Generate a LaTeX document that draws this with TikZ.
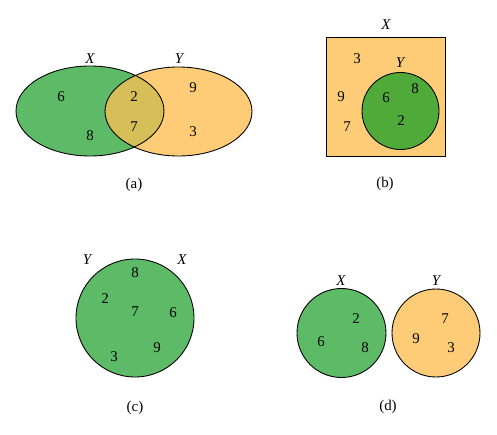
\documentclass[tikz,border=0pt]{standalone}
\usepackage{fontspec}
\setmainfont{Liberation Serif}
\usetikzlibrary{positioning}
\definecolor{setgreen}{RGB}{93,187,104}
\definecolor{setdeep}{RGB}{80,170,58}
\definecolor{setorange}{RGB}{254,204,118}
\definecolor{setboth}{RGB}{214,190,88}

\begin{document}
\begin{tikzpicture}[x=0.02cm,y=-0.02cm,
	setline/.style={draw=black, line width=0.5pt},
	elem/.style={font=\fontsize{8.5}{10}\selectfont, inner sep=1pt},
	setname/.style={font=\fontsize{8.5}{10}\selectfont\itshape, inner sep=1pt},
	caption/.style={font=\fontsize{8.5}{10}\selectfont, inner sep=1pt}]
	\useasboundingbox (0,0) rectangle (497,435);

	% (a)
	\fill[setgreen] (90,111) ellipse [x radius=74, y radius=45];
	\fill[setorange] (178.5,111.5) ellipse [x radius=73.5, y radius=44.5];
	\begin{scope}
		\clip (90,111) ellipse [x radius=74, y radius=45];
		\fill[setboth] (178.5,111.5) ellipse [x radius=73.5, y radius=44.5];
	\end{scope}
	\draw[setline] (90,111) ellipse [x radius=74, y radius=45];
	\draw[setline] (178.5,111.5) ellipse [x radius=73.5, y radius=44.5];
	\node[setname] (aX) at (90,59) {X};
	\node[setname] (aY) at (179,59) {Y};
	\node[elem] (a6) at (61,97) {6};
	\node[elem] (a8) at (90,136) {8};
	\node[elem] (a2) at (134,97) {2};
	\node[elem] (a7) at (134,127) {7};
	\node[elem] (a9) at (193,88) {9};
	\node[elem] (a3) at (193,132) {3};
	\node[caption] (capa) at (134,185) {(a)};

	% (b)
	\draw[setline, fill=setorange] (326,37) rectangle (445,156);
	\draw[setline, fill=setdeep] (400.5,111) circle [radius=38.5];
	\node[setname] (bX) at (386,25) {X};
	\node[setname] (bY) at (400,63) {Y};
	\node[elem] (b3) at (357,59) {3};
	\node[elem] (b9) at (341,97) {9};
	\node[elem] (b7) at (347,127) {7};
	\node[elem] (b6) at (386,98) {6};
	\node[elem] (b8) at (415,89) {8};
	\node[elem] (b2) at (401,121) {2};
	\node[caption] (capb) at (385,184) {(b)};

	% (c)
	\draw[setline, fill=setgreen] (135,318) circle [radius=59];
	\node[setname] (cY) at (87,260) {Y};
	\node[setname] (cX) at (182,260) {X};
	\node[elem] (c8) at (135,273) {8};
	\node[elem] (c2) at (105,299) {2};
	\node[elem] (c7) at (135,312) {7};
	\node[elem] (c6) at (173,313) {6};
	\node[elem] (c9) at (157,348) {9};
	\node[elem] (c3) at (114,357) {3};
	\node[caption] (capc) at (135,408) {(c)};

	% (d)
	\draw[setline, fill=setgreen] (341.5,333) circle [radius=44.5];
	\draw[setline, fill=setorange] (436,333) circle [radius=44];
	\node[setname] (dX) at (341,281) {X};
	\node[setname] (dY) at (436,281) {Y};
	\node[elem] (d2) at (356,319) {2};
	\node[elem] (d6) at (321,342) {6};
	\node[elem] (d8) at (365,348) {8};
	\node[elem] (d7) at (445,319) {7};
	\node[elem] (d9) at (416,339) {9};
	\node[elem] (d3) at (451,348) {3};
	\node[caption] (capd) at (388,407) {(d)};
\end{tikzpicture}
\end{document}
